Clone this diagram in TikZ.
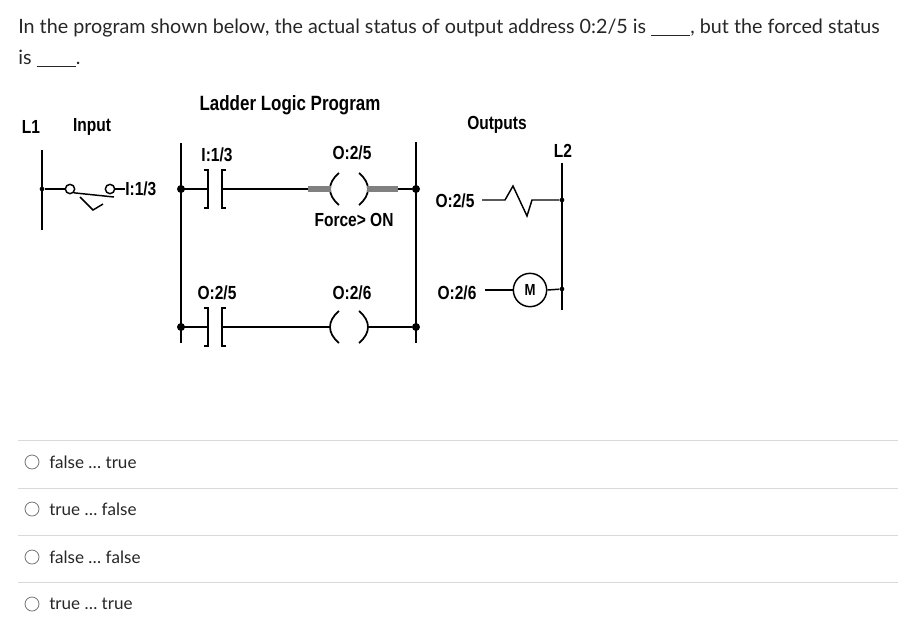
\documentclass[tikz,border=0pt]{standalone}
\usepackage{fontspec}
\setmainfont{Lato}
\newfontfamily\cond[FakeStretch=0.82]{Liberation Sans}
\begin{document}
\begin{tikzpicture}[x=0.75pt,y=-0.75pt,
  q/.style={anchor=base west,inner sep=0,font=\fontsize{14.8}{17}\selectfont,text=black!85},
  opt/.style={anchor=west,inner sep=0,font=\fontsize{12.8}{15}\selectfont,text=black!85},
  lab/.style={inner sep=0,font=\cond\bfseries\fontsize{14.2}{16}\selectfont},
  wire/.style={line width=1.1pt},
  dot/.style={circle,fill=black,inner sep=0,minimum size=6pt},
  sdot/.style={circle,fill=black,inner sep=0,minimum size=3.5pt},
  sep/.style={draw=black!15,line width=0.6pt},
  radio/.style={circle,draw=black!55,inner sep=0,minimum size=10.5pt,line width=0.6pt}]
\useasboundingbox (0,0) rectangle (910,633);
% question
\node[q] (q1) at (18,33) {In the program shown below, the actual status of output address 0:2/5 is \underline{\phantom{xxxx}}, but the forced status};
\node[q] (q2) at (18,64) {is \underline{\phantom{xxxx}}.};
% labels
\node[lab,font=\cond\bfseries\fontsize{15.5}{17}\selectfont] (title) at (290,105) {Ladder Logic Program};
\node[lab] (l1) at (31,127) {L1};
\node[lab] (inp) at (92,127) {Input};
\node[lab] (outs) at (497,125) {Outputs};
\node[lab] (l2) at (563,151) {L2};
% L1 rail and switch
\coordinate (l1t) at (42,150); \coordinate (l1b) at (42,230);
\draw[wire] (l1t) -- (l1b);
\node[sdot] (j1) at (42,189) {};
\node[circle,draw,line width=1.1pt,inner sep=0,minimum size=7pt] (c1) at (70,189) {};
\node[circle,draw,line width=1.1pt,inner sep=0,minimum size=7pt] (c2) at (110,189) {};
\draw[wire] (j1) -- (c1);
\draw[wire] (c1.south east) -- (114,197);
\draw[wire] (80,197) -- (93,210) -- (103,204);
\node[lab,anchor=west] (in13) at (125,189) {I:1/3};
\draw[wire] (c2) -- (in13);
% left/right rails
\draw[wire] (181,143) -- (181,343);
\draw[wire] (416,142) -- (416,343);
\node[dot] (lr1) at (181,189) {};
\node[dot] (lr2) at (181,327) {};
\node[dot] (rr1) at (416,189) {};
\node[dot] (rr2) at (416,327) {};
% rung contacts and coils
\foreach \y in {189,327}{
  \draw[wire] (181,\y) -- (208,\y);
  \draw[wire] (204,\y-19) -- (208,\y-19) -- (208,\y+19) -- (204,\y+19);
  \draw[wire] (226,\y-19) -- (222,\y-19) -- (222,\y+19) -- (226,\y+19);
  \draw[wire,line width=1.3pt] (339,\y-16) .. controls (327,\y-6) and (327,\y+6) .. (339,\y+16);
  \draw[wire,line width=1.3pt] (359,\y-16) .. controls (371,\y-6) and (371,\y+6) .. (359,\y+16);
}
\draw[wire] (222,189) -- (308,189);
\draw[black!50,line width=4pt] (308,189) -- (331,189);
\draw[black!50,line width=4pt] (367,189) -- (398,189);
\draw[wire] (398,189) -- (rr1);
\draw[wire] (222,327) -- (331,327);
\draw[wire] (367,327) -- (rr2);
\node[lab] (c13) at (217,155) {I:1/3};
\node[lab] (o25) at (352,153) {O:2/5};
\node[lab] (force) at (354,220) {Force> ON};
\node[lab] (c25) at (217,293) {O:2/5};
\node[lab] (o26) at (352,293) {O:2/6};
% outputs
\draw[wire] (562,163) -- (562,310);
\node[sdot] (d1) at (562,200) {};
\node[sdot] (d2) at (562,289) {};
\node[lab] (out25) at (455,201) {O:2/5};
\draw[wire] (482,200) -- (505,200) -- (513,186) -- (527,216) -- (532,200) -- (d1);
\node[lab] (out26) at (457,293) {O:2/6};
\node[circle,draw,line width=1.1pt,minimum size=25pt,inner sep=0,font=\cond\bfseries\fontsize{12}{13}\selectfont] (m) at (530,290) {M};
\draw[wire] (485,290) -- (m.west);
\draw[wire] (m.east) -- (d2);
% options
\foreach \y in {440,488,535,582}{\draw[sep] (18,\y) -- (898,\y);}
\node[radio] (r1) at (32,462) {};
\node[radio] (r2) at (32,509) {};
\node[radio] (r3) at (32,557) {};
\node[radio] (r4) at (32,604) {};
\node[opt] (o1) at (49,462) {false {\ldots} true};
\node[opt] (o2) at (49,509) {true {\ldots} false};
\node[opt] (o3) at (49,557) {false {\ldots} false};
\node[opt] (o4) at (49,604) {true {\ldots} true};
\end{tikzpicture}
\end{document}
